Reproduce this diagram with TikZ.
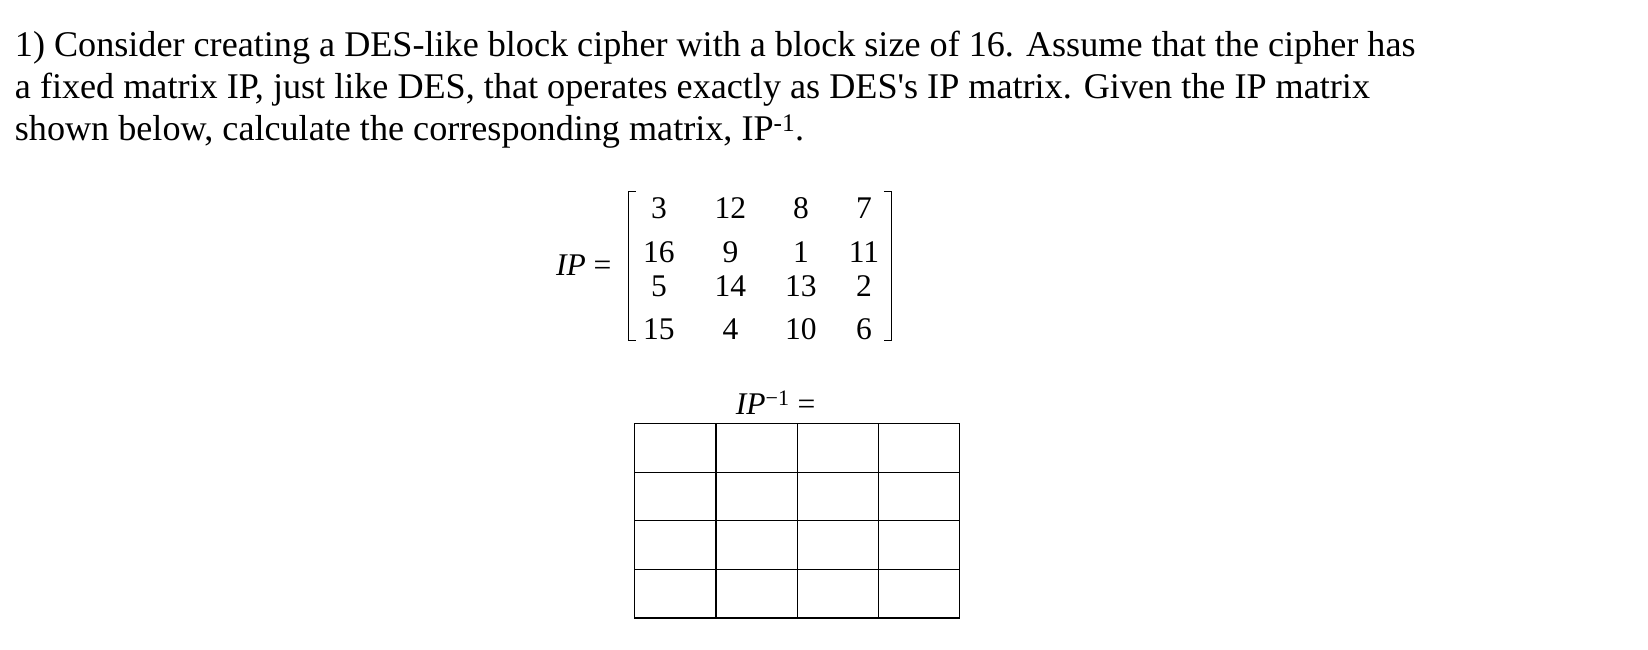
\documentclass[tikz,border=0pt]{standalone}
\usepackage{fontspec}
\setmainfont{Liberation Serif}
\begin{document}
\begin{tikzpicture}[x=1pt,y=-1pt,
  body/.style={anchor=west,inner sep=0pt,font=\fontsize{34.4}{40}\selectfont},
  num/.style={inner sep=0pt,font=\fontsize{30}{32}\selectfont},
  cell/.style={draw,line width=1.2pt}]
\useasboundingbox (0,0) rectangle (1568,618);
\node[body] (l1) at (14,45) {1) Consider creating a DES-like block cipher with a block size of 16. Assume that the cipher has};
\node[body] (l2) at (14,85) {a fixed matrix IP, just like DES, that operates exactly as DES\textquotesingle s IP matrix. Given the IP matrix};
\node[body] (l3) at (14,125) {shown below, calculate the corresponding matrix, IP\textsuperscript{-1}.};
\node[num,anchor=east] (ip) at (582,252) {\textit{IP} =};
\foreach \r/\y/\a/\b/\c/\d in {1/198/3/12/8/7, 2/240/16/9/1/11, 3/272/5/14/13/2, 4/313/15/4/10/6}{
  \node[num] (m\r a) at (627,\y) {\a};
  \node[num] (m\r b) at (695,\y) {\b};
  \node[num] (m\r c) at (762,\y) {\c};
  \node[num] (m\r d) at (822,\y) {\d};
}
\draw[line width=1.2pt] (605,182) -- (598,182) -- (598,324) -- (605,324);
\draw[line width=1.2pt] (841,182) -- (848,182) -- (848,324) -- (841,324);
\node[num] (ipinv) at (738,383) {\textit{IP}\textsuperscript{−1} =};
\foreach \i in {0,...,3}{\foreach \j in {0,...,3}{
  \draw[cell] ({604+77.25*\i},{403+46.25*\j}) rectangle ({604+77.25*(\i+1)},{403+46.25*(\j+1)});
}}
\end{tikzpicture}
\end{document}
